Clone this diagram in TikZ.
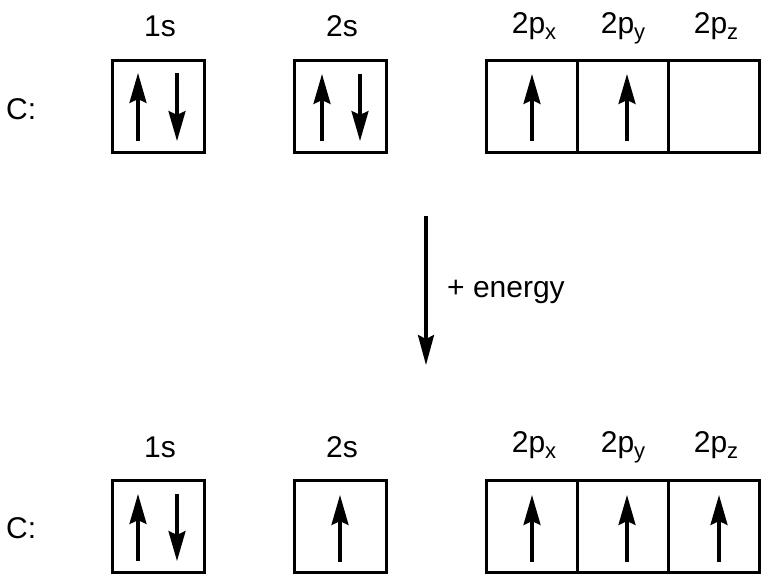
\documentclass[tikz,border=0pt]{standalone}
\usepackage{fontspec}
\setmainfont{Liberation Sans}
\usetikzlibrary{arrows.meta,calc}
\newcommand{\psub}[1]{2p\raisebox{-6pt}{\fontsize{22}{22}\selectfont #1}}
\begin{document}
\begin{tikzpicture}[x=1pt,y=-1pt,
 orb/.style={draw,line width=3pt,minimum width=92pt,minimum height=92pt,inner sep=0pt},
 porb/.style={orb,minimum width=91.3pt},
 spin/.style={line width=3.2pt,-{Stealth[length=30pt,width=17pt,inset=4pt]}},
 lbl/.style={font=\fontsize{30}{30}\selectfont,anchor=base,inner sep=0pt},
 elem/.style={font=\fontsize{30}{30}\selectfont,anchor=west,inner sep=0pt}]
\useasboundingbox (0,0) rectangle (768,580);
% top row
\node[elem] (c1) at (6,109) {C:};
\node[orb] (a1s) at (158,107) {};
\node[orb] (a2s) at (340,107) {};
\node[porb] (apx) at (531.7,107) {};
\node[porb] (apy) at (623,107) {};
\node[porb] (apz) at (714.3,107) {};
\node[lbl] (la1s) at (160,37) {1s};
\node[lbl] (la2s) at (342,37) {2s};
\node[lbl] (lapx) at (534,34) {\psub{x}};
\node[lbl] (lapy) at (623,34) {\psub{y}};
\node[lbl] (lapz) at (716,34) {\psub{z}};
\draw[spin] (138,141) -- (138,73);
\draw[spin] (177,73) -- (177,141);
\draw[spin] (322,141) -- (322,74);
\draw[spin] (360,74) -- (360,141);
\draw[spin] (532,141) -- (532,74);
\draw[spin] (627,141) -- (627,74);
% energy arrow
\coordinate (e1) at (426,216);
\coordinate (e2) at (426,365);
\draw[spin,-{Stealth[length=30pt,width=16pt,inset=4pt]}] (e1) -- (e2);
\node[font=\fontsize{30}{30}\selectfont,anchor=base west,inner sep=0pt] (en) at (447,297) {+ energy};
% bottom row
\node[elem] (c2) at (6,528) {C:};
\node[orb] (b1s) at (158,526.5) {};
\node[orb] (b2s) at (340,526.5) {};
\node[porb] (bpx) at (531.7,526.5) {};
\node[porb] (bpy) at (623,526.5) {};
\node[porb] (bpz) at (714.3,526.5) {};
\node[lbl] (lb1s) at (160,457) {1s};
\node[lbl] (lb2s) at (342,457) {2s};
\node[lbl] (lbpx) at (534,452) {\psub{x}};
\node[lbl] (lbpy) at (623,452) {\psub{y}};
\node[lbl] (lbpz) at (716,452) {\psub{z}};
\draw[spin] (138,561) -- (138,494);
\draw[spin] (177,494) -- (177,561);
\draw[spin] (340,562) -- (340,495);
\draw[spin] (532,562) -- (532,495);
\draw[spin] (627,562) -- (627,495);
\draw[spin] (719,562) -- (719,495);
\end{tikzpicture}
\end{document}
